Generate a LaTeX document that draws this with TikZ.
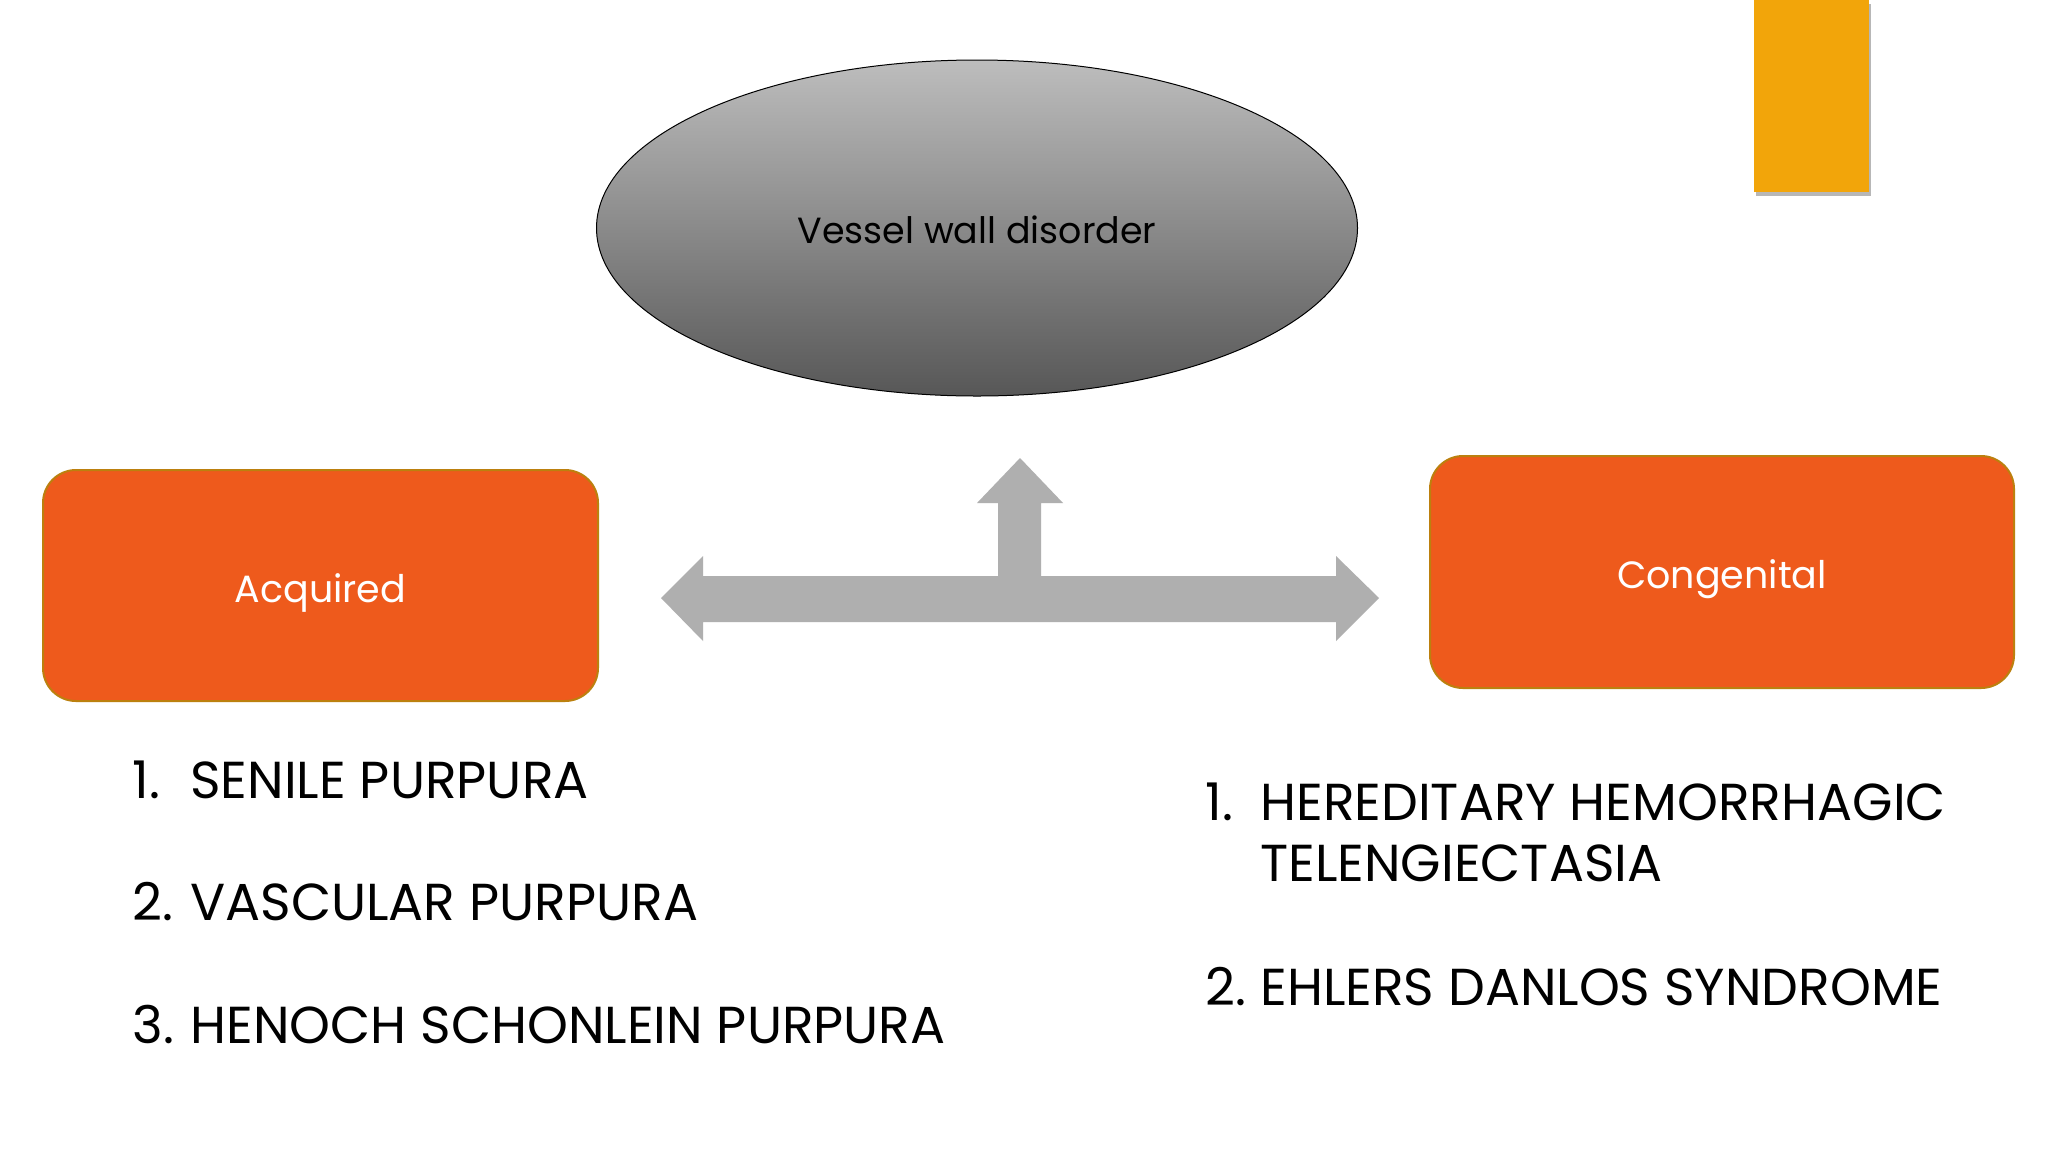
\documentclass[tikz,border=0pt]{standalone}
\usepackage{fontspec}
\setmainfont{Poppins}
\usetikzlibrary{shapes.geometric}
\definecolor{boxfill}{HTML}{EE5A1C}
\definecolor{boxline}{HTML}{BC800E}
\definecolor{arrowgray}{HTML}{AFAFAF}
\definecolor{barorange}{HTML}{F2A50A}
\definecolor{elltop}{HTML}{BDBDBD}
\definecolor{ellbot}{HTML}{575757}
\tikzset{
  catbox/.style={rectangle, rounded corners=16.5pt, fill=boxfill, draw=boxline, line width=1pt,
    text=white, font=\fontsize{19}{23}\selectfont, inner sep=0pt},
  listtext/.style={anchor=base west, inner sep=0pt, font=\fontsize{26}{31}\selectfont, text=black},
  blockarrow/.style={fill=arrowgray}
}
\begin{document}
\begin{tikzpicture}[x=0.5pt,y=-0.5pt]
\useasboundingbox (0,0) rectangle (2048,1152);
\fill[white] (0,0) rectangle (2048,1152);
% orange bar with shadow
\fill[gray!70, opacity=0.8] (1756,4) rectangle (1871,196);
\fill[barorange] (1754,0) rectangle (1869,192);
% ellipse
\node[ellipse, draw=black, line width=0.5pt, top color=elltop, bottom color=ellbot,
  minimum width=380.5pt, minimum height=168pt, inner sep=0pt,
  font=\fontsize{18.2}{22}\selectfont] (vwd) at (977,228) {\raisebox{-7.8pt}[0pt][0pt]{Vessel wall disorder}};
% boxes
\node[catbox, minimum width=277.5pt, minimum height=115.5pt] (acq) at (320.5,585.5) {\raisebox{-8.5pt}[0pt][0pt]{Acquired}};
\node[catbox, minimum width=292pt, minimum height=116pt] (cong) at (1722,572) {\raisebox{-8pt}[0pt][0pt]{Congenital}};
% block arrow
\coordinate (hub) at (1020,599);
\fill[blockarrow] (661,598) -- (703,556) -- (703,576) -- (998,576) -- (998,503) -- (977,503)
  -- (1020,458) -- (1063,503) -- (1041,503) -- (1041,576) -- (1336,576) -- (1336,556)
  -- (1379,598) -- (1336,641) -- (1336,622) -- (703,622) -- (703,641) -- cycle;
% left list
\node[listtext] (l1n) at (132,798) {1.};
\node[listtext] (l1) at (190,798) {SENILE PURPURA};
\node[listtext] (l2n) at (132,920) {2.};
\node[listtext] (l2) at (190,920) {VASCULAR PURPURA};
\node[listtext] (l3n) at (132,1043) {3.};
\node[listtext] (l3) at (190,1043) {HENOCH SCHONLEIN PURPURA};
% right list
\node[listtext] (r1n) at (1205,820) {1.};
\node[listtext] (r1) at (1260,820) {HEREDITARY HEMORRHAGIC};
\node[listtext] (r1b) at (1260,881) {TELENGIECTASIA};
\node[listtext] (r2n) at (1205,1005) {2.};
\node[listtext] (r2) at (1260,1005) {EHLERS DANLOS SYNDROME};
\end{tikzpicture}
\end{document}
